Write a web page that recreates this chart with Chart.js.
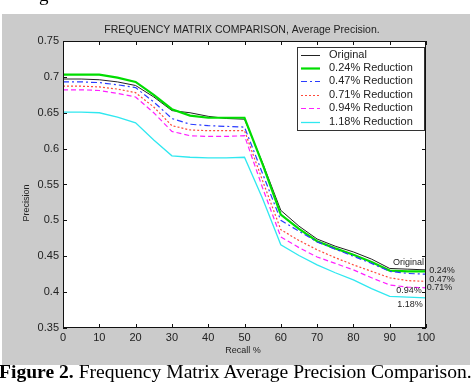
<!DOCTYPE html>
<html><head><meta charset="utf-8">
<script src="https://cdn.jsdelivr.net/npm/chart.js@4"></script>
<style>
html,body{margin:0;padding:0;background:#fff;width:474px;height:382px;overflow:hidden}
#wrap{position:absolute;left:0;top:0;width:474px;height:382px}
#cap{position:absolute;left:-1px;top:361px;font:19.6px "Liberation Serif","Times New Roman",serif;white-space:nowrap;color:#000;line-height:normal}
#frag{position:absolute;left:39px;top:-16px;font:19px "Liberation Serif",serif;color:#000;line-height:normal;z-index:2}
</style></head><body>
<div id="wrap"><canvas id="c" width="474" height="382"></canvas></div>
<div id="frag">g</div>
<div id="cap"><b>Figure 2.</b> Frequency Matrix Average Precision Comparison.</div>
<script>
const recall = [0,5,10,15,20,25,30,35,40,45,50,55,60,65,70,75,80,85,90,95,100];
const original = [0.697,0.697,0.696,0.693,0.688,0.672,0.653,0.650,0.645,0.642,0.641,0.580,0.514,0.492,0.474,0.464,0.456,0.446,0.433,0.432,0.431];
const red024 = [0.703,0.703,0.703,0.699,0.693,0.675,0.655,0.646,0.643,0.643,0.643,0.578,0.508,0.488,0.471,0.461,0.452,0.442,0.430,0.429,0.429];
const red047 = [0.693,0.693,0.692,0.689,0.685,0.665,0.642,0.634,0.632,0.631,0.630,0.565,0.500,0.485,0.470,0.460,0.450,0.440,0.429,0.426,0.425];
const red071 = [0.687,0.687,0.686,0.683,0.678,0.658,0.632,0.626,0.625,0.625,0.625,0.555,0.487,0.472,0.459,0.448,0.438,0.429,0.420,0.416,0.415];
const red094 = [0.682,0.682,0.681,0.677,0.672,0.650,0.624,0.618,0.617,0.617,0.618,0.545,0.477,0.462,0.449,0.440,0.431,0.420,0.410,0.407,0.406];
const red118 = [0.651,0.651,0.650,0.644,0.636,0.612,0.590,0.588,0.587,0.587,0.588,0.530,0.466,0.451,0.438,0.427,0.417,0.405,0.394,0.393,0.392];
const seriesNames = ['Original','0.24% Reduction','0.47% Reduction','0.71% Reduction','0.94% Reduction','1.18% Reduction'];
const endLabels = ['Original','0.24%','0.47%','0.71%','0.94%','1.18%'];
const xTickLabels = ['0','10','20','30','40','50','60','70','80','90','100'];
const yTickLabels = ['0.35','0.4','0.45','0.5','0.55','0.6','0.65','0.7','0.75'];

const values = [original, red024, red047, red071, red094, red118];
const styles = [
  {c:'#222222', w:1, d:[]},
  {c:'#00dd00', w:2.2, d:[]},
  {c:'#2a3cff', w:1.2, d:[6,3,2,3]},
  {c:'#ff4a3a', w:1.2, d:[2,2]},
  {c:'#ff20ff', w:1.2, d:[5,3]},
  {c:'#30e8f0', w:1.3, d:[]}
];
const drawOrder = [5,4,3,2,1,0];

const datasets = values.map((arr,i)=>({
  label: seriesNames[i],
  data: recall.map((r,j)=>({x:r,y:arr[j]})),
  borderColor: styles[i].c,
  borderWidth: styles[i].w,
  borderDash: styles[i].d,
  pointRadius: 0,
  tension: 0,
  fill: false,
  order: drawOrder[i]
}));

const FONT = '"Liberation Sans", Arial, sans-serif';
const deco = {
  id:'deco',
  beforeDraw(chart){
    const ctx = chart.ctx, a = chart.chartArea;
    ctx.save();
    ctx.fillStyle = '#fff'; ctx.fillRect(0,0,474,382);
    ctx.fillStyle = '#cbcbcb'; ctx.fillRect(2,14,468,351);
    ctx.fillStyle = '#fff'; ctx.fillRect(a.left,a.top,a.right-a.left,a.bottom-a.top);
    ctx.restore();
  },
  afterDraw(chart){
    const ctx = chart.ctx, a = chart.chartArea, x = chart.scales.x, y = chart.scales.y;
    ctx.save();
    ctx.strokeStyle = '#111'; ctx.lineWidth = 1; ctx.setLineDash([]);
    ctx.strokeRect(a.left+0.5, a.top+0.5, a.right-a.left-1, a.bottom-a.top-1);
    const TL = 4;
    ctx.beginPath();
    x.ticks.forEach(t=>{
      const p = Math.round(x.getPixelForValue(t.value))+0.5;
      ctx.moveTo(p, a.bottom); ctx.lineTo(p, a.bottom-TL);
      ctx.moveTo(p, a.top); ctx.lineTo(p, a.top+TL);
    });
    y.ticks.forEach(t=>{
      const p = Math.round(y.getPixelForValue(t.value))+0.5;
      ctx.moveTo(a.left, p); ctx.lineTo(a.left+TL, p);
      ctx.moveTo(a.right, p); ctx.lineTo(a.right-TL, p);
    });
    ctx.stroke();
    ctx.fillStyle = '#222';
    ctx.font = '10.5px ' + FONT;
    ctx.textAlign = 'center'; ctx.textBaseline = 'middle';
    ctx.fillText('FREQUENCY MATRIX COMPARISON, Average Precision.', 242, 30);
    ctx.font = '9px ' + FONT;
    ctx.fillText('Recall %', 243, 351);
    ctx.save();
    ctx.translate(27, 203); ctx.rotate(-Math.PI/2);
    ctx.fillText('Precision', 0, 0);
    ctx.restore();
    const lx = 297, ly = 47, lw = 127, lh = 83;
    ctx.fillStyle = '#fff'; ctx.fillRect(lx, ly, lw, lh);
    ctx.strokeStyle = '#333'; ctx.lineWidth = 1;
    ctx.strokeRect(lx+0.5, ly+0.5, lw, lh);
    ctx.font = '11px ' + FONT; ctx.textAlign = 'left'; ctx.textBaseline = 'middle';
    seriesNames.forEach((n,i)=>{
      const yy = 54.5 + i*13.4;
      ctx.strokeStyle = styles[i].c; ctx.lineWidth = styles[i].w; ctx.setLineDash(styles[i].d);
      ctx.beginPath(); ctx.moveTo(301, Math.round(yy)+0.5); ctx.lineTo(320, Math.round(yy)+0.5); ctx.stroke();
      ctx.setLineDash([]);
      ctx.fillStyle = '#222'; ctx.fillText(n, 329, yy);
    });
    const pos = [[90.9,0.441],[100.9,0.430],[100.9,0.417],[100.2,0.407],[91.8,0.402],[92.1,0.383]];
    ctx.font = '9px ' + FONT; ctx.fillStyle = '#222';
    endLabels.forEach((t,i)=>{
      ctx.fillText(t, x.getPixelForValue(pos[i][0]), y.getPixelForValue(pos[i][1]));
    });
    ctx.restore();
  }
};

new Chart(document.getElementById('c'), {
  type:'line',
  data:{datasets},
  options:{
    responsive:false, animation:false, events:[],
    layout:{padding:{left:0, top:41, right:48, bottom:0}},
    plugins:{legend:{display:false}, title:{display:false}, tooltip:{enabled:false}},
    scales:{
      x:{type:'linear', min:0, max:100,
        afterBuildTicks:s=>{s.ticks = xTickLabels.map(v=>({value:Number(v)}));},
        ticks:{color:'#222', font:{family:FONT, size:11}, padding:3, maxRotation:0, autoSkip:false,
          callback:(v,i)=>xTickLabels[i]},
        grid:{display:false, drawTicks:false}, border:{display:false},
        afterFit:s=>{s.height = 54;}},
      y:{type:'linear', min:0.35, max:0.75,
        afterBuildTicks:s=>{s.ticks = yTickLabels.map(v=>({value:Number(v)}));},
        ticks:{color:'#222', font:{family:FONT, size:11}, padding:4, autoSkip:false,
          callback:(v,i)=>yTickLabels[i]},
        grid:{display:false, drawTicks:false}, border:{display:false},
        afterFit:s=>{s.height; s.width = 63;}}
    }
  },
  plugins:[deco]
});
</script>
</body></html>
